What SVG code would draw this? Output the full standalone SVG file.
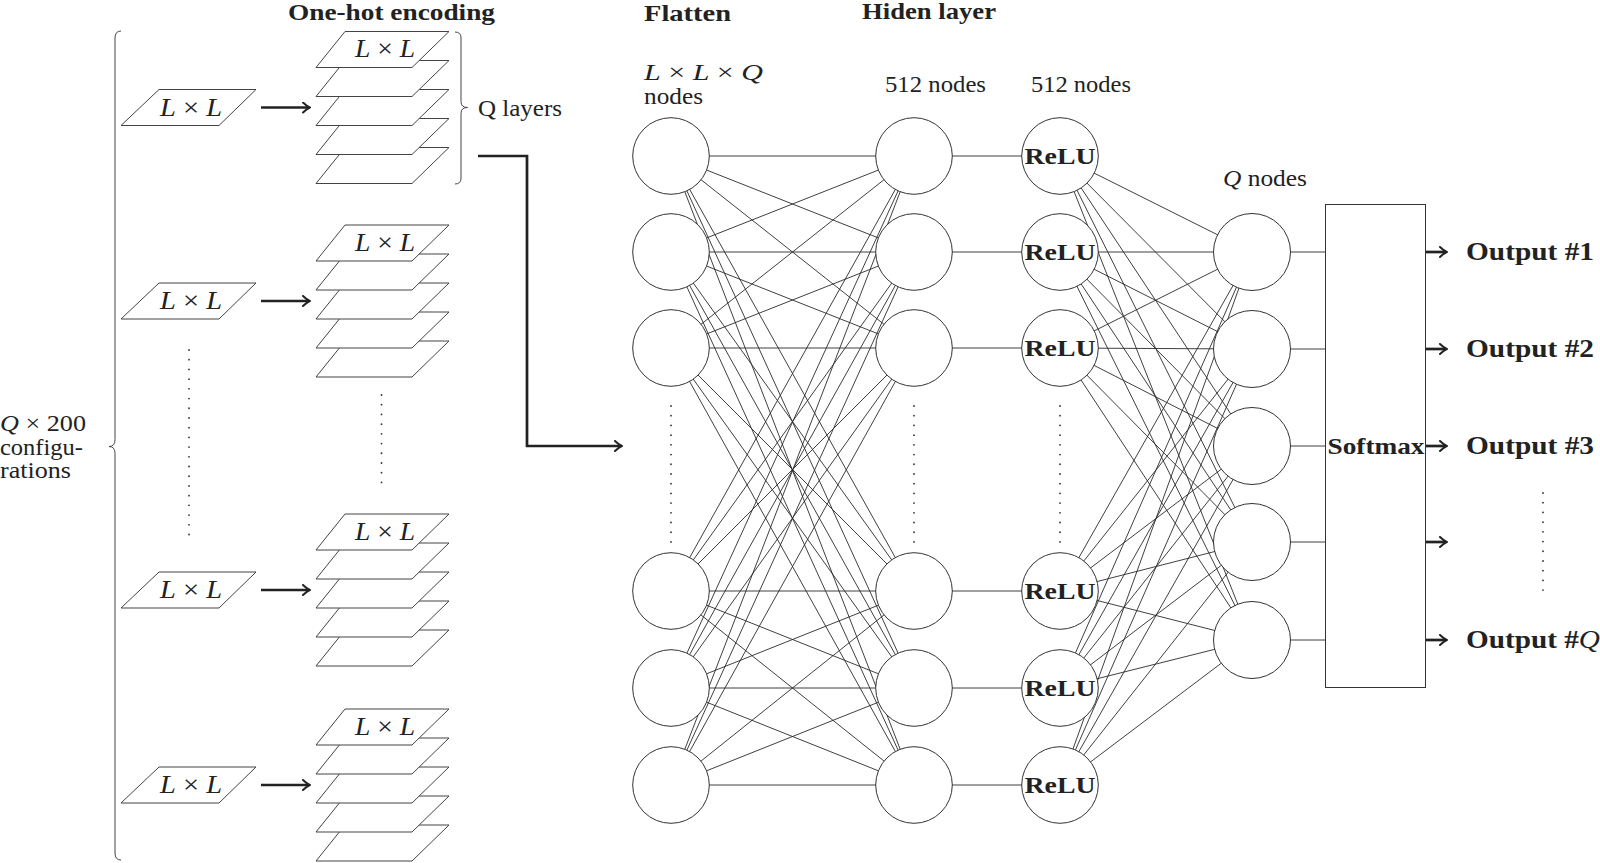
<svg xmlns="http://www.w3.org/2000/svg" width="1600" height="863" viewBox="0 0 1600 863">
<defs>
<style>
.t{font-family:"Liberation Serif","DejaVu Serif",serif;fill:#222;font-size:24px}
.s{font-size:22.5px}
.b{font-weight:bold;font-size:24px}
.o{font-size:25px}
.lx{font-size:25px}
.i{font-style:italic}
.c{stroke:#2a2a2a;stroke-width:0.9;fill:none}
.n{fill:#fff;stroke:#333;stroke-width:1}
.pg{fill:#fff;stroke:#444;stroke-width:1}
.thick{stroke:#222;stroke-width:2.7;fill:none}
.dots{stroke:#333;stroke-width:1.8;stroke-linecap:round;stroke-dasharray:0.01 9.7;fill:none}
.br{stroke:#444;stroke-width:1;fill:none}
</style>
<marker id="ah" viewBox="-8 -6 10 12" refX="0" refY="0" markerWidth="10" markerHeight="12" markerUnits="userSpaceOnUse" orient="auto">
<path d="M-6,-5 Q-2,-1.2 0.8,0 Q-2,1.2 -6,5" fill="none" stroke="#222" stroke-width="2" stroke-linecap="round"/>
</marker>
<polygon id="layer" points="345,0 449,0 412,36 316,36"/>
</defs>
<rect width="1600" height="863" fill="#fff"/>

<!-- titles -->
<text class="t b" x="288" y="20" textLength="207" lengthAdjust="spacingAndGlyphs">One-hot encoding</text>
<text class="t b" x="644" y="21" textLength="87" lengthAdjust="spacingAndGlyphs">Flatten</text>
<text class="t b" x="862" y="19" textLength="134" lengthAdjust="spacingAndGlyphs">Hiden layer</text>

<!-- left brace and label -->
<g id="configs">
<path class="br" d="M121,31 Q115,31 115,38 L115,439.5 Q115,446.5 109,446.5 Q115,446.5 115,453.5 L115,853 Q115,860 121,860"/>
<text class="t s" x="0" y="431" textLength="86" lengthAdjust="spacingAndGlyphs"><tspan class="i">Q</tspan> × 200</text>
<text class="t s" x="0" y="455" textLength="83" lengthAdjust="spacingAndGlyphs">configu-</text>
<text class="t s" x="0" y="477.5" textLength="71" lengthAdjust="spacingAndGlyphs">rations</text>
</g>

<!-- input configurations -->
<g id="input1">
<polygon class="pg" points="159,89.5 256,89.5 219,125.5 121,125.5"/>
<text class="t lx" x="160" y="115.5" textLength="62" lengthAdjust="spacingAndGlyphs"><tspan class="i">L</tspan> × <tspan class="i">L</tspan></text>
</g>
<g id="input2">
<polygon class="pg" points="159,283 256,283 219,319 121,319"/>
<text class="t lx" x="160" y="309" textLength="62" lengthAdjust="spacingAndGlyphs"><tspan class="i">L</tspan> × <tspan class="i">L</tspan></text>
</g>
<g id="input3">
<polygon class="pg" points="159,572 256,572 219,608 121,608"/>
<text class="t lx" x="160" y="598" textLength="62" lengthAdjust="spacingAndGlyphs"><tspan class="i">L</tspan> × <tspan class="i">L</tspan></text>
</g>
<g id="input4">
<polygon class="pg" points="159,767 256,767 219,803 121,803"/>
<text class="t lx" x="160" y="793" textLength="62" lengthAdjust="spacingAndGlyphs"><tspan class="i">L</tspan> × <tspan class="i">L</tspan></text>
</g>
<line class="dots" x1="189" y1="350" x2="189" y2="541"/>

<!-- one-hot stacks -->
<g id="stack1">
<use href="#layer" class="pg" y="147.5"/><use href="#layer" class="pg" y="118.5"/><use href="#layer" class="pg" y="89.5"/><use href="#layer" class="pg" y="60.5"/><use href="#layer" class="pg" y="31.5"/>
<text class="t lx" x="355" y="57" textLength="60" lengthAdjust="spacingAndGlyphs"><tspan class="i">L</tspan> × <tspan class="i">L</tspan></text>
<path class="br" d="M455,32 Q461,32 461,38 L461,101.5 Q461,107.5 467.5,107.5 Q461,107.5 461,113.5 L461,178 Q461,184 455,184"/>
<text class="t" x="478" y="116" textLength="84" lengthAdjust="spacingAndGlyphs">Q layers</text>
</g>
<g id="stack2">
<use href="#layer" class="pg" y="341"/><use href="#layer" class="pg" y="312"/><use href="#layer" class="pg" y="283"/><use href="#layer" class="pg" y="254"/><use href="#layer" class="pg" y="225"/>
<text class="t lx" x="355" y="250.5" textLength="60" lengthAdjust="spacingAndGlyphs"><tspan class="i">L</tspan> × <tspan class="i">L</tspan></text>
</g>
<g id="stack3">
<use href="#layer" class="pg" y="630"/><use href="#layer" class="pg" y="601"/><use href="#layer" class="pg" y="572"/><use href="#layer" class="pg" y="543"/><use href="#layer" class="pg" y="514"/>
<text class="t lx" x="355" y="539.5" textLength="60" lengthAdjust="spacingAndGlyphs"><tspan class="i">L</tspan> × <tspan class="i">L</tspan></text>
</g>
<g id="stack4">
<use href="#layer" class="pg" y="825"/><use href="#layer" class="pg" y="796"/><use href="#layer" class="pg" y="767"/><use href="#layer" class="pg" y="738"/><use href="#layer" class="pg" y="709"/>
<text class="t lx" x="355" y="734.5" textLength="60" lengthAdjust="spacingAndGlyphs"><tspan class="i">L</tspan> × <tspan class="i">L</tspan></text>
</g>
<line class="dots" x1="381.5" y1="395" x2="381.5" y2="485"/>

<!-- labels -->
<text class="t s" x="644" y="80" textLength="119" lengthAdjust="spacingAndGlyphs"><tspan class="i">L</tspan> × <tspan class="i">L</tspan> × <tspan class="i">Q</tspan></text>
<text class="t s" x="644" y="103.5" textLength="59" lengthAdjust="spacingAndGlyphs">nodes</text>
<text class="t" x="885" y="92" textLength="101" lengthAdjust="spacingAndGlyphs">512 nodes</text>
<text class="t" x="1031" y="92" textLength="100" lengthAdjust="spacingAndGlyphs">512 nodes</text>
<text class="t" x="1223" y="186" textLength="84" lengthAdjust="spacingAndGlyphs"><tspan class="i">Q</tspan> nodes</text>

<!-- connectors -->
<g id="connectors">
<path class="thick" d="M261,107.5 H309" marker-end="url(#ah)"/>
<path class="thick" d="M261,301 H309" marker-end="url(#ah)"/>
<path class="thick" d="M261,590 H309" marker-end="url(#ah)"/>
<path class="thick" d="M261,785 H309" marker-end="url(#ah)"/>
<path class="thick" d="M478,156 H527 V446 H621" marker-end="url(#ah)"/>
<g class="c">
<line x1="671" y1="156" x2="914" y2="156"/><line x1="671" y1="156" x2="914" y2="252"/><line x1="671" y1="156" x2="914" y2="348"/><line x1="671" y1="156" x2="914" y2="591"/><line x1="671" y1="156" x2="914" y2="688"/><line x1="671" y1="156" x2="914" y2="785"/>
<line x1="671" y1="252" x2="914" y2="156"/><line x1="671" y1="252" x2="914" y2="252"/><line x1="671" y1="252" x2="914" y2="348"/><line x1="671" y1="252" x2="914" y2="591"/><line x1="671" y1="252" x2="914" y2="688"/><line x1="671" y1="252" x2="914" y2="785"/>
<line x1="671" y1="348" x2="914" y2="156"/><line x1="671" y1="348" x2="914" y2="252"/><line x1="671" y1="348" x2="914" y2="348"/><line x1="671" y1="348" x2="914" y2="591"/><line x1="671" y1="348" x2="914" y2="688"/><line x1="671" y1="348" x2="914" y2="785"/>
<line x1="671" y1="591" x2="914" y2="156"/><line x1="671" y1="591" x2="914" y2="252"/><line x1="671" y1="591" x2="914" y2="348"/><line x1="671" y1="591" x2="914" y2="591"/><line x1="671" y1="591" x2="914" y2="688"/><line x1="671" y1="591" x2="914" y2="785"/>
<line x1="671" y1="688" x2="914" y2="156"/><line x1="671" y1="688" x2="914" y2="252"/><line x1="671" y1="688" x2="914" y2="348"/><line x1="671" y1="688" x2="914" y2="591"/><line x1="671" y1="688" x2="914" y2="688"/><line x1="671" y1="688" x2="914" y2="785"/>
<line x1="671" y1="785" x2="914" y2="156"/><line x1="671" y1="785" x2="914" y2="252"/><line x1="671" y1="785" x2="914" y2="348"/><line x1="671" y1="785" x2="914" y2="591"/><line x1="671" y1="785" x2="914" y2="688"/><line x1="671" y1="785" x2="914" y2="785"/>
<line x1="914" y1="156" x2="1060" y2="156"/><line x1="914" y1="252" x2="1060" y2="252"/><line x1="914" y1="348" x2="1060" y2="348"/><line x1="914" y1="591" x2="1060" y2="591"/><line x1="914" y1="688" x2="1060" y2="688"/><line x1="914" y1="785" x2="1060" y2="785"/>
<line x1="1060" y1="156" x2="1252" y2="252"/><line x1="1060" y1="156" x2="1252" y2="349"/><line x1="1060" y1="156" x2="1252" y2="446"/><line x1="1060" y1="156" x2="1252" y2="542"/><line x1="1060" y1="156" x2="1252" y2="640"/>
<line x1="1060" y1="252" x2="1252" y2="252"/><line x1="1060" y1="252" x2="1252" y2="349"/><line x1="1060" y1="252" x2="1252" y2="446"/><line x1="1060" y1="252" x2="1252" y2="542"/><line x1="1060" y1="252" x2="1252" y2="640"/>
<line x1="1060" y1="348" x2="1252" y2="252"/><line x1="1060" y1="348" x2="1252" y2="349"/><line x1="1060" y1="348" x2="1252" y2="446"/><line x1="1060" y1="348" x2="1252" y2="542"/><line x1="1060" y1="348" x2="1252" y2="640"/>
<line x1="1060" y1="591" x2="1252" y2="252"/><line x1="1060" y1="591" x2="1252" y2="349"/><line x1="1060" y1="591" x2="1252" y2="446"/><line x1="1060" y1="591" x2="1252" y2="542"/><line x1="1060" y1="591" x2="1252" y2="640"/>
<line x1="1060" y1="688" x2="1252" y2="252"/><line x1="1060" y1="688" x2="1252" y2="349"/><line x1="1060" y1="688" x2="1252" y2="446"/><line x1="1060" y1="688" x2="1252" y2="542"/><line x1="1060" y1="688" x2="1252" y2="640"/>
<line x1="1060" y1="785" x2="1252" y2="252"/><line x1="1060" y1="785" x2="1252" y2="349"/><line x1="1060" y1="785" x2="1252" y2="446"/><line x1="1060" y1="785" x2="1252" y2="542"/><line x1="1060" y1="785" x2="1252" y2="640"/>
<line x1="1252" y1="252" x2="1325.5" y2="252"/><line x1="1252" y1="349" x2="1325.5" y2="349"/><line x1="1252" y1="446" x2="1325.5" y2="446"/><line x1="1252" y1="542" x2="1325.5" y2="542"/><line x1="1252" y1="640" x2="1325.5" y2="640"/>
</g>
<path class="thick" d="M1425.5,252 H1446" marker-end="url(#ah)"/>
<path class="thick" d="M1425.5,349 H1446" marker-end="url(#ah)"/>
<path class="thick" d="M1425.5,446 H1446" marker-end="url(#ah)"/>
<path class="thick" d="M1425.5,542 H1446" marker-end="url(#ah)"/>
<path class="thick" d="M1425.5,640 H1446" marker-end="url(#ah)"/>
</g>

<!-- flatten nodes -->
<g id="flatten">
<circle class="n" cx="671" cy="156" r="38.3"/><circle class="n" cx="671" cy="252" r="38.3"/><circle class="n" cx="671" cy="348" r="38.3"/>
<circle class="n" cx="671" cy="591" r="38.3"/><circle class="n" cx="671" cy="688" r="38.3"/><circle class="n" cx="671" cy="785" r="38.3"/>
<line class="dots" x1="671" y1="406" x2="671" y2="544"/>
</g>
<g id="hidden">
<circle class="n" cx="914" cy="156" r="38.3"/><circle class="n" cx="914" cy="252" r="38.3"/><circle class="n" cx="914" cy="348" r="38.3"/>
<circle class="n" cx="914" cy="591" r="38.3"/><circle class="n" cx="914" cy="688" r="38.3"/><circle class="n" cx="914" cy="785" r="38.3"/>
<line class="dots" x1="914" y1="406" x2="914" y2="544"/>
</g>
<g id="relu">
<circle class="n" cx="1060" cy="156" r="38.3"/><circle class="n" cx="1060" cy="252" r="38.3"/><circle class="n" cx="1060" cy="348" r="38.3"/>
<circle class="n" cx="1060" cy="591" r="38.3"/><circle class="n" cx="1060" cy="688" r="38.3"/><circle class="n" cx="1060" cy="785" r="38.3"/>
<g class="t b" text-anchor="middle">
<text x="1060" y="164" textLength="71" lengthAdjust="spacingAndGlyphs">ReLU</text>
<text x="1060" y="260" textLength="71" lengthAdjust="spacingAndGlyphs">ReLU</text>
<text x="1060" y="356" textLength="71" lengthAdjust="spacingAndGlyphs">ReLU</text>
<text x="1060" y="599" textLength="71" lengthAdjust="spacingAndGlyphs">ReLU</text>
<text x="1060" y="696" textLength="71" lengthAdjust="spacingAndGlyphs">ReLU</text>
<text x="1060" y="793" textLength="71" lengthAdjust="spacingAndGlyphs">ReLU</text>
</g>
<line class="dots" x1="1060" y1="406" x2="1060" y2="544"/>
</g>
<g id="qnodes">
<circle class="n" cx="1252" cy="252" r="38.5"/><circle class="n" cx="1252" cy="349" r="38.5"/><circle class="n" cx="1252" cy="446" r="38.5"/><circle class="n" cx="1252" cy="542" r="38.5"/><circle class="n" cx="1252" cy="640" r="38.5"/>
</g>
<g id="softmax">
<rect class="n" x="1325.5" y="204.5" width="100" height="483"/>
<text class="t b" x="1327.5" y="454" textLength="97" lengthAdjust="spacingAndGlyphs">Softmax</text>
</g>
<g id="outputs">
<text class="t b o" x="1466" y="259.5" textLength="128" lengthAdjust="spacingAndGlyphs">Output #1</text>
<text class="t b o" x="1466" y="356.5" textLength="128" lengthAdjust="spacingAndGlyphs">Output #2</text>
<text class="t b o" x="1466" y="453.5" textLength="128" lengthAdjust="spacingAndGlyphs">Output #3</text>
<text class="t b o" x="1466" y="647.5" textLength="134" lengthAdjust="spacingAndGlyphs">Output #<tspan class="i" font-weight="normal">Q</tspan></text>
<line class="dots" x1="1543" y1="493" x2="1543" y2="592"/>
</g>
</svg>
